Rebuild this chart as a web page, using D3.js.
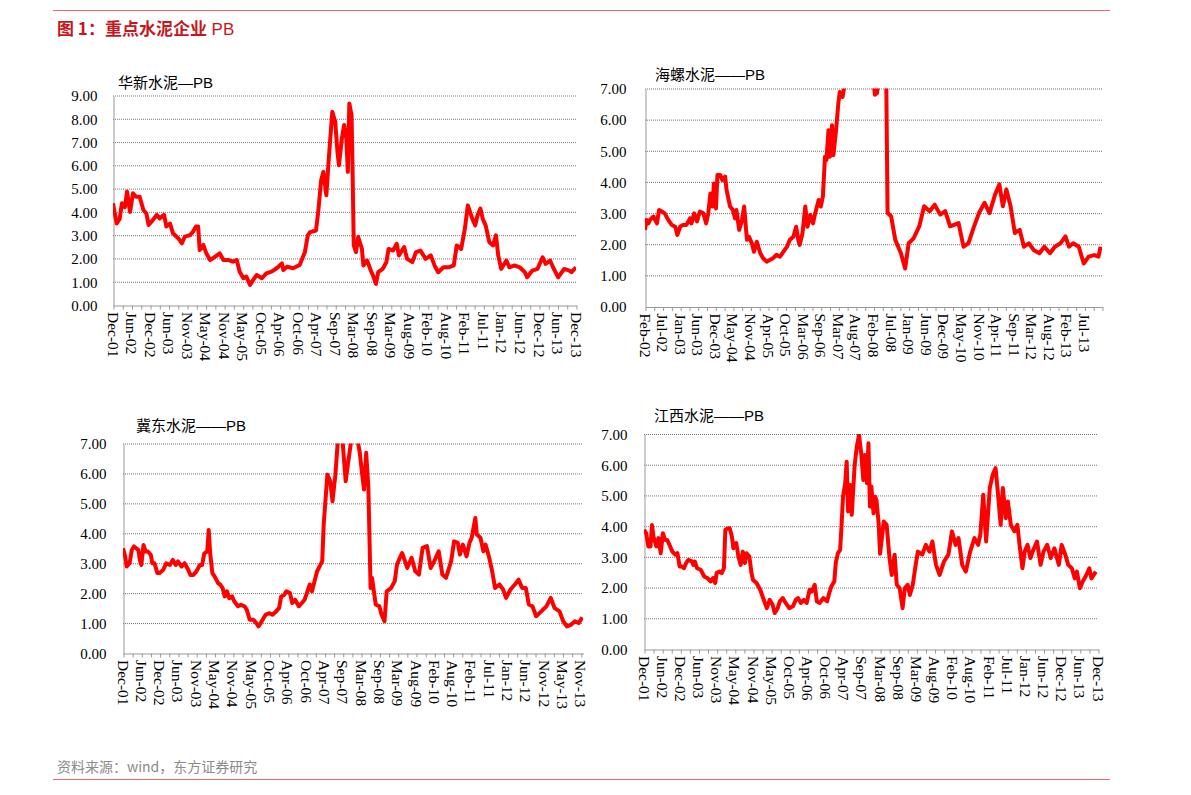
<!DOCTYPE html>
<html>
<head>
<meta charset="utf-8">
<script src="https://cdn.jsdelivr.net/npm/d3@7"></script>
<style>
  body { margin: 0; background: #fff; }
  svg { display: block; }
</style>
</head>
<body>
<script>
// PB series, [week since first label, PB]
const huaxinPB = [[0,4.37],[5,3.5],[9,3.7],[12,4.37],[16,4.2],[19,4.87],[23,4.0],[27,4.8],[31,4.65],[36,4.65],[41,4.08],[45,3.94],[48,3.44],[52,3.58],[59,3.87],[63,3.72],[69,3.87],[72,3.37],[77,3.5],[81,3.08],[88,2.87],[93,2.65],[97,2.94],[104,3.0],[108,3.15],[112,3.37],[115,3.37],[117,2.36],[122,2.58],[126,2.22],[131,1.93],[138,2.08],[144,2.22],[149,1.93],[156,1.93],[162,1.86],[167,1.93],[171,1.43],[176,1.15],[180,1.22],[185,0.86],[189,1.07],[194,1.29],[201,1.15],[207,1.36],[214,1.43],[221,1.58],[228,1.79],[230,1.5],[235,1.65],[243,1.58],[252,1.72],[259,2.27],[263,2.99],[266,3.13],[274,3.2],[277,3.99],[281,5.36],[284,5.72],[288,4.71],[291,6.15],[296,8.3],[300,7.87],[303,6.58],[305,6.0],[309,7.16],[312,7.73],[315,7.16],[317,5.72],[319,8.66],[322,8.16],[323,6.58],[325,2.56],[328,2.27],[331,2.92],[336,2.41],[338,1.70],[343,1.91],[348,1.48],[351,1.26],[355,0.91],[358,1.41],[364,1.55],[369,1.84],[372,2.41],[378,2.34],[383,2.63],[386,2.13],[393,2.49],[397,1.98],[404,1.84],[409,2.27],[415,2.34],[422,1.98],[429,2.13],[434,1.70],[439,1.41],[446,1.62],[453,1.62],[460,1.70],[464,2.56],[470,2.41],[475,3.28],[479,4.28],[485,3.71],[489,3.42],[492,3.85],[496,4.14],[499,3.71],[503,3.42],[508,2.70],[513,2.56],[517,2.99],[520,2.13],[524,1.55],[531,1.91],[535,1.62],[542,1.70],[549,1.62],[556,1.41],[559,1.19],[566,1.48],[573,1.55],[580,2.05],[584,1.77],[590,1.91],[594,1.62],[601,1.19],[609,1.55],[616,1.48],[619,1.41],[625,1.62]];

const conchPB = [[0,2.46],[2,2.78],[5,2.67],[7,2.78],[12,2.89],[17,2.67],[20,3.10],[24,3.05],[28,2.99],[33,2.78],[38,2.62],[43,2.56],[46,2.30],[50,2.56],[54,2.62],[59,2.62],[64,2.83],[66,2.67],[70,2.99],[74,2.73],[78,3.05],[83,2.99],[87,2.67],[90,2.99],[93,3.63],[96,3.21],[98,3.95],[101,3.15],[103,4.22],[107,4.22],[110,4.06],[114,4.17],[116,3.74],[121,3.21],[125,3.10],[128,2.83],[130,3.10],[134,2.46],[138,2.78],[141,3.21],[145,2.14],[148,2.24],[152,2.03],[155,1.76],[159,2.08],[164,1.71],[168,1.55],[173,1.44],[178,1.50],[182,1.55],[187,1.66],[192,1.60],[197,1.76],[202,1.92],[206,2.14],[211,2.24],[215,2.56],[218,2.14],[220,1.98],[224,2.35],[228,3.21],[231,2.56],[235,2.94],[239,2.67],[242,2.99],[247,3.42],[250,3.21],[253,3.53],[256,4.81],[258,4.70],[261,5.66],[263,4.81],[266,5.82],[268,4.86],[272,5.72],[275,6.52],[277,6.89],[281,6.73],[283,7.0],[287,7.8],[292,8.6],[297,9.3],[303,8.7],[309,9.8],[315,8.9],[321,7.9],[325,7.2],[327,6.8],[330,6.85],[333,7.4],[338,8.2],[343,7.6],[345,3.0],[350,2.9],[356,2.14],[364,1.71],[370,1.22],[375,2.03],[382,2.19],[390,2.57],[397,3.22],[405,3.06],[412,3.27],[420,2.95],[427,3.06],[434,2.57],[446,2.68],[453,1.92],[460,2.03],[468,2.57],[475,3.0],[483,3.33],[490,3.0],[498,3.60],[504,3.92],[509,3.22],[514,3.76],[520,3.22],[526,2.36],[533,2.46],[539,1.92],[546,2.03],[553,1.81],[561,1.71],[568,1.92],[576,1.71],[583,1.92],[591,2.03],[598,2.25],[603,1.92],[609,2.03],[617,1.92],[624,1.38],[631,1.60],[639,1.65],[645,1.60],[648,1.92]];

const jidongPB = [[0,3.5],[3,3.22],[5,2.89],[9,3.0],[12,3.44],[15,3.56],[18,3.5],[21,3.44],[23,3.11],[25,2.94],[28,3.61],[31,3.39],[34,3.39],[38,3.28],[40,3.0],[43,3.0],[47,2.67],[50,2.67],[55,2.78],[59,3.0],[64,2.94],[68,3.11],[72,2.94],[75,3.06],[80,2.89],[84,3.0],[89,2.78],[92,2.61],[96,2.61],[100,2.72],[105,2.94],[108,2.94],[111,3.33],[115,3.39],[117,4.11],[119,3.33],[122,2.67],[125,2.56],[130,2.33],[133,2.28],[136,2.17],[139,1.89],[142,2.06],[145,1.83],[149,1.89],[152,1.72],[157,1.56],[161,1.61],[166,1.56],[169,1.44],[173,1.11],[178,1.11],[182,1.0],[185,0.89],[188,1.0],[192,1.17],[195,1.28],[200,1.33],[204,1.28],[209,1.39],[213,1.5],[216,1.89],[220,1.94],[223,2.06],[228,2.0],[231,1.67],[235,1.78],[240,1.56],[248,1.78],[255,2.29],[258,2.06],[265,2.73],[272,3.07],[274,4.29],[279,5.96],[283,5.74],[286,5.07],[290,5.96],[293,7.0],[297,7.5],[300,7.0],[304,5.74],[307,6.3],[311,7.0],[314,7.6],[318,7.4],[323,6.74],[326,6.08],[329,5.46],[332,6.69],[335,5.52],[338,2.17],[340,2.51],[345,1.62],[350,1.56],[353,1.28],[357,1.06],[360,2.06],[366,2.17],[371,2.40],[374,2.95],[378,3.18],[381,3.34],[385,3.07],[388,2.84],[394,3.18],[399,2.73],[404,2.62],[409,3.51],[415,3.57],[420,2.84],[425,3.07],[431,3.40],[436,2.62],[441,2.51],[448,3.07],[452,3.73],[457,3.68],[460,3.29],[464,3.62],[469,3.23],[473,3.68],[476,3.85],[481,4.51],[483,3.96],[488,3.85],[492,3.40],[495,3.62],[500,3.18],[504,2.73],[508,2.17],[514,2.29],[519,2.12],[523,1.84],[529,2.12],[535,2.29],[540,2.45],[545,2.17],[550,2.17],[554,1.62],[559,1.56],[564,1.23],[571,1.39],[578,1.56],[584,1.84],[589,1.51],[596,1.39],[601,1.06],[606,0.89],[612,0.95],[617,1.06],[622,1.00],[627,1.19]];

const jiangxiPB = [[0,3.88],[3,3.77],[6,3.34],[9,3.34],[11,4.04],[13,3.66],[17,3.34],[20,3.61],[23,3.12],[26,3.77],[29,3.55],[32,3.55],[36,3.34],[39,3.17],[43,3.07],[46,3.12],[49,2.69],[52,2.69],[55,2.63],[58,2.80],[61,2.90],[66,2.85],[68,2.74],[70,2.85],[73,2.63],[78,2.58],[83,2.36],[87,2.31],[92,2.20],[95,2.31],[98,2.15],[100,2.47],[104,2.52],[107,2.47],[110,2.63],[112,3.88],[116,3.93],[118,3.93],[121,3.66],[123,3.28],[127,3.45],[130,3.01],[133,2.74],[136,3.17],[139,2.80],[141,3.12],[145,3.01],[148,2.47],[150,2.25],[155,2.15],[160,1.93],[164,1.66],[169,1.33],[173,1.60],[177,1.44],[180,1.17],[184,1.33],[187,1.55],[191,1.66],[195,1.50],[200,1.33],[205,1.39],[209,1.60],[212,1.66],[216,1.50],[220,1.60],[224,1.50],[228,1.93],[231,1.87],[235,2.09],[238,1.55],[242,1.50],[247,1.66],[252,1.55],[255,1.82],[258,2.04],[262,2.20],[264,2.80],[267,3.12],[270,3.23],[272,4.04],[274,4.96],[277,5.40],[279,6.10],[281,4.48],[284,5.34],[286,4.37],[288,5.18],[290,5.99],[293,6.59],[296,6.97],[299,6.37],[302,5.50],[304,6.32],[307,5.40],[309,6.70],[311,4.64],[313,5.29],[316,4.42],[318,4.96],[320,4.85],[323,4.10],[325,3.10],[330,4.15],[334,4.04],[338,2.96],[341,2.41],[345,3.07],[348,2.09],[352,1.98],[356,1.33],[359,1.98],[363,2.09],[366,1.76],[370,2.09],[374,2.74],[377,3.17],[383,3.07],[388,3.39],[393,3.17],[397,3.50],[402,2.74],[407,2.41],[413,2.85],[419,3.07],[424,3.83],[429,3.39],[433,3.61],[438,2.74],[443,2.52],[449,3.17],[455,3.61],[460,3.39],[463,3.72],[467,5.02],[471,3.50],[476,5.24],[480,5.67],[484,5.89],[487,5.13],[491,4.04],[494,5.24],[498,4.26],[501,4.80],[505,4.04],[510,3.83],[514,4.04],[517,3.39],[521,2.63],[524,3.17],[528,3.39],[532,2.96],[535,3.17],[541,3.50],[546,2.74],[550,3.17],[555,3.39],[560,2.96],[565,3.28],[571,2.74],[575,3.39],[580,3.07],[584,2.74],[589,2.63],[593,2.30],[596,2.52],[600,1.98],[604,2.20],[609,2.41],[613,2.63],[616,2.30],[622,2.52]];

// category labels, one every 25 weeks
const labelsDec01 = ["Dec-01","Jun-02","Dec-02","Jun-03","Nov-03","May-04","Nov-04","May-05","Oct-05","Apr-06","Oct-06","Apr-07","Sep-07","Mar-08","Sep-08","Mar-09","Aug-09","Feb-10","Aug-10","Feb-11","Jul-11","Jan-12","Jun-12","Dec-12","Jun-13","Dec-13"];
const labelsFeb02 = ["Feb-02","Jul-02","Jan-03","Jun-03","Dec-03","May-04","Nov-04","Apr-05","Oct-05","Mar-06","Sep-06","Mar-07","Aug-07","Feb-08","Jul-08","Jan-09","Jun-09","Dec-09","May-10","Nov-10","Apr-11","Sep-11","Mar-12","Aug-12","Feb-13","Jul-13"];
const labelsJidong = ["Dec-01","Jun-02","Dec-02","Jun-03","Nov-03","May-04","Nov-04","May-05","Oct-05","Apr-06","Oct-06","Apr-07","Sep-07","Mar-08","Sep-08","Mar-09","Aug-09","Feb-10","Aug-10","Feb-11","Jul-11","Jan-12","Jun-12","Nov-12","May-13","Nov-13"];

const titles = ["华新水泥—PB", "海螺水泥——PB", "冀东水泥——PB", "江西水泥——PB"];

const w = 1191;
const h = 795;
const svg = d3.select("body").append("svg")
  .attr("width", w)
  .attr("height", h)
  .attr("viewBox", [0, 0, w, h]);

const serif = "'Liberation Serif', 'Times New Roman', serif";
const sans = "'Liberation Sans', 'Noto Sans CJK SC', sans-serif";

// page header and footer
svg.append("line").attr("x1", 53).attr("x2", 1110).attr("y1", 10.5).attr("y2", 10.5)
  .attr("stroke", "#e96a6a").attr("stroke-width", 1.2);
const head = svg.append("text").attr("x", 57).attr("y", 35)
  .attr("font-family", "'Noto Sans CJK SC', sans-serif").attr("font-size", 17).attr("fill", "#c8161e");
head.append("tspan").attr("font-weight", "bold").text("图 1：重点水泥企业");
head.append("tspan").attr("font-family", sans).text(" PB");

svg.append("text").attr("x", 57).attr("y", 772)
  .attr("font-family", "'Noto Sans CJK SC', sans-serif").attr("font-size", 14).attr("fill", "#8a8a8a")
  .text("资料来源：wind，东方证券研究");
svg.append("line").attr("x1", 53).attr("x2", 1110).attr("y1", 779.5).attr("y2", 779.5)
  .attr("stroke", "#e96a6a").attr("stroke-width", 1.2);

// one small chart
function drawPanel(p, idx) {
  const g = svg.append("g");

  const xScale = d3.scaleLinear().domain([0, p.weeks]).range([p.left, p.right]);
  const yScale = d3.scaleLinear().domain([0, p.max]).range([p.bottom, p.top]);

  // dotted gridlines
  g.append("g").selectAll("line")
    .data(d3.range(1, p.max + 1))
    .join("line")
    .attr("x1", p.left).attr("x2", p.right)
    .attr("y1", d => yScale(d) + 0.5).attr("y2", d => yScale(d) + 0.5)
    .attr("stroke", "#777").attr("stroke-dasharray", "1,1");

  // y axis
  const yAxis = d3.axisLeft(yScale)
    .tickValues(d3.range(0, p.max + 1))
    .tickFormat(d3.format(".2f"))
    .tickSize(0).tickSizeOuter(0).tickPadding(p.pad);
  g.append("g")
    .attr("transform", `translate(${p.left + 0.5},0.5)`)
    .call(yAxis)
    .call(a => a.select(".domain").attr("stroke", "#999"))
    .selectAll("text")
    .attr("font-family", serif).attr("font-size", 15).attr("fill", "#000");

  // x axis: tick every 12.5 weeks, label every 25
  const xAxis = d3.axisBottom(xScale)
    .tickValues(d3.range(0, p.weeks + 0.1, 12.5))
    .tickFormat("")
    .tickSize(4).tickSizeOuter(0);
  g.append("g")
    .attr("transform", `translate(0.5,${p.bottom + 0.5})`)
    .call(xAxis)
    .call(a => a.select(".domain").attr("stroke", "#999"))
    .call(a => a.selectAll(".tick line").attr("stroke", "#999"));

  g.append("g").selectAll("text")
    .data(p.labels)
    .join("text")
    .attr("transform", (d, i) => `translate(${xScale(i * 25)},${p.bottom + 7}) rotate(90)`)
    .attr("dy", "0.35em")
    .attr("font-family", serif).attr("font-size", 15.5).attr("fill", "#000")
    .text(d => d);

  // clip so values above the top gridline are cut like the original
  const clipId = "clip" + idx;
  svg.append("clipPath").attr("id", clipId)
    .append("rect")
    .attr("x", p.left).attr("y", p.top)
    .attr("width", p.right - p.left).attr("height", p.bottom - p.top + 4);

  const line = d3.line()
    .x(d => xScale(d[0]))
    .y(d => yScale(d[1]));

  g.append("path")
    .datum(p.data)
    .attr("clip-path", `url(#${clipId})`)
    .attr("fill", "none")
    .attr("stroke", "#ff0000")
    .attr("stroke-width", 4)
    .attr("stroke-linejoin", "round")
    .attr("d", line);

  // panel title
  g.append("text")
    .attr("x", p.titleX).attr("y", p.titleY)
    .attr("font-family", sans).attr("font-size", 15).attr("fill", "#000")
    .text(p.title);
}

const panels = [
  {data: huaxinPB, labels: labelsDec01, title: titles[0], max: 9, weeks: 625,
   left: 113, right: 576, top: 95.5, bottom: 305, pad: 16, titleX: 118, titleY: 88},
  {data: conchPB, labels: labelsFeb02, title: titles[1], max: 7, weeks: 650,
   left: 645, right: 1102, top: 88.5, bottom: 306.5, pad: 19, titleX: 655, titleY: 80},
  {data: jidongPB, labels: labelsJidong, title: titles[2], max: 7, weeks: 628,
   left: 123, right: 583, top: 443.5, bottom: 653, pad: 17, titleX: 136, titleY: 431},
  {data: jiangxiPB, labels: labelsDec01, title: titles[3], max: 7, weeks: 625,
   left: 644, right: 1098, top: 434, bottom: 649, pad: 17, titleX: 654, titleY: 421}
];

panels.forEach(drawPanel);
</script>
</body>
</html>
